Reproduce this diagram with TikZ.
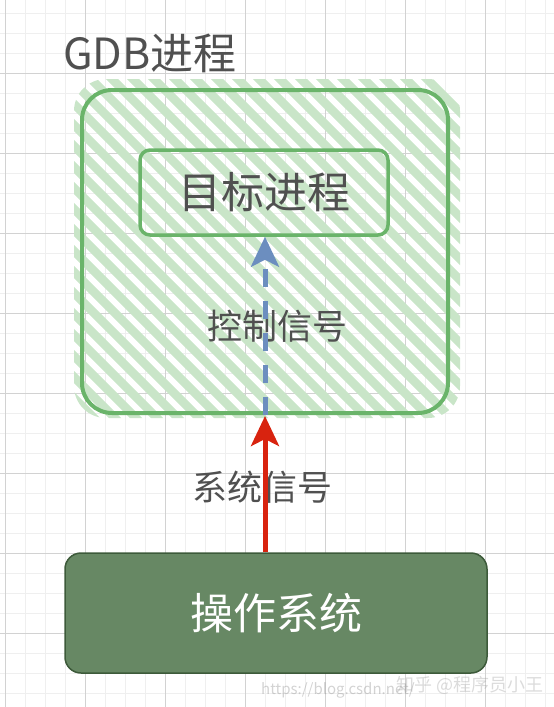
\documentclass[tikz,border=0pt]{standalone}
\usepackage{xcolor}
\usepackage{fontspec}
\setmainfont{Noto Sans CJK SC}
\usepackage{tikz}
\usetikzlibrary{arrows.meta,positioning,calc,backgrounds}

\definecolor{gridminor}{HTML}{EFEFEF}
\definecolor{gridmajor}{HTML}{D2D2D2}
\definecolor{boxgreen}{HTML}{6AB46A}
\definecolor{hatchgreen}{HTML}{C9E5C8}
\definecolor{osgreen}{HTML}{678864}
\definecolor{osborder}{HTML}{3D5A3A}
\definecolor{ctrlblue}{HTML}{6C8EBF}
\definecolor{sigred}{HTML}{D8230F}
\definecolor{textgray}{HTML}{505050}

\begin{document}
\begin{tikzpicture}[x=10pt, y=-10pt,
    procbox/.style={draw=boxgreen, line width=4pt, rounded corners=30pt, minimum width=366pt, minimum height=323pt},
    targetbox/.style={draw=boxgreen, line width=3.5pt, rounded corners=10pt, minimum width=248pt, minimum height=85pt, text=textgray, font=\fontsize{43pt}{50pt}\selectfont},
    osbox/.style={draw=osborder, fill=osgreen, line width=1.5pt, rounded corners=16pt, minimum width=422pt, minimum height=120pt, text=white, font=\fontsize{43pt}{50pt}\selectfont},
    label/.style={text=textgray, inner sep=0pt, font=\fontsize{35pt}{40pt}\selectfont},
    hatch/.style={hatchgreen, line width=8.5pt},
    ctrlarrow/.style={-{Stealth[length=30pt, width=28pt, inset=7pt]}, ctrlblue, line width=5pt, dash pattern=on 18pt off 14pt},
    sigarrow/.style={-{Stealth[length=30pt, width=28pt, inset=7pt]}, sigred, line width=5pt, shorten >=1pt},
    wmark/.style={inner sep=0pt, text opacity=0.35}
]
    \useasboundingbox (0,0) rectangle (55.4,70.7);

    % Boxes
    \node[procbox] (gdb) at (26.5,25.15) {};
    \node[targetbox] (target) at (26.4,19.25) {目标进程};
    \node[osbox] (os) at (27.6,61.3) {操作系统};

    % Process name
    \node[label, anchor=west, font=\fontsize{43pt}{48pt}\selectfont] (gdbname) at (6.3,5.3) {GDB进程};

    % Signal labels
    \node[label] (ctrl) at (27.7,32.6) {控制信号};
    \node[label] (sys) at (26.2,48.7) {系统信号};

    % Signals
    \draw[ctrlarrow] (gdb.south) -- (target.south -| gdb.south);
    \draw[sigarrow] (os.north -| gdb.south) -- (gdb.south);

    % Watermark
    \node[wmark, text=gray, font=\fontsize{15pt}{18pt}\selectfont] (url) at (33.8,69.0) {https://blog.csdn.net/};
    \node[wmark, text=gray!80, font=\fontsize{18pt}{20pt}\selectfont] (zhihu) at (47.0,68.5) {知乎 @程序员小王};

    \begin{scope}[on background layer]
        % Grid
        \foreach \x in {0.5,2.5,...,54.5}
            \draw[gridminor, line width=1pt] (\x,0) -- (\x,70.7);
        \foreach \y in {1.3,3.3,...,69.3}
            \draw[gridminor, line width=1pt] (0,\y) -- (55.4,\y);
        \foreach \x in {0.5,8.5,...,48.5}
            \draw[gridmajor, line width=1pt] (\x,0) -- (\x,70.7);
        \foreach \y in {7.3,15.3,...,63.3}
            \draw[gridmajor, line width=1pt] (0,\y) -- (55.4,\y);

        % Hatching
        \begin{scope}
            \clip[rounded corners=32pt] ($(gdb.north west)+(-0.6,-0.9)$) rectangle ($(gdb.south east)+(1.0,0.3)$);
            \foreach \s in {-27,-24.9,...,47}
                \draw[hatch] (\s,7.5) -- ++(36,36);
        \end{scope}
    \end{scope}
\end{tikzpicture}
\end{document}
